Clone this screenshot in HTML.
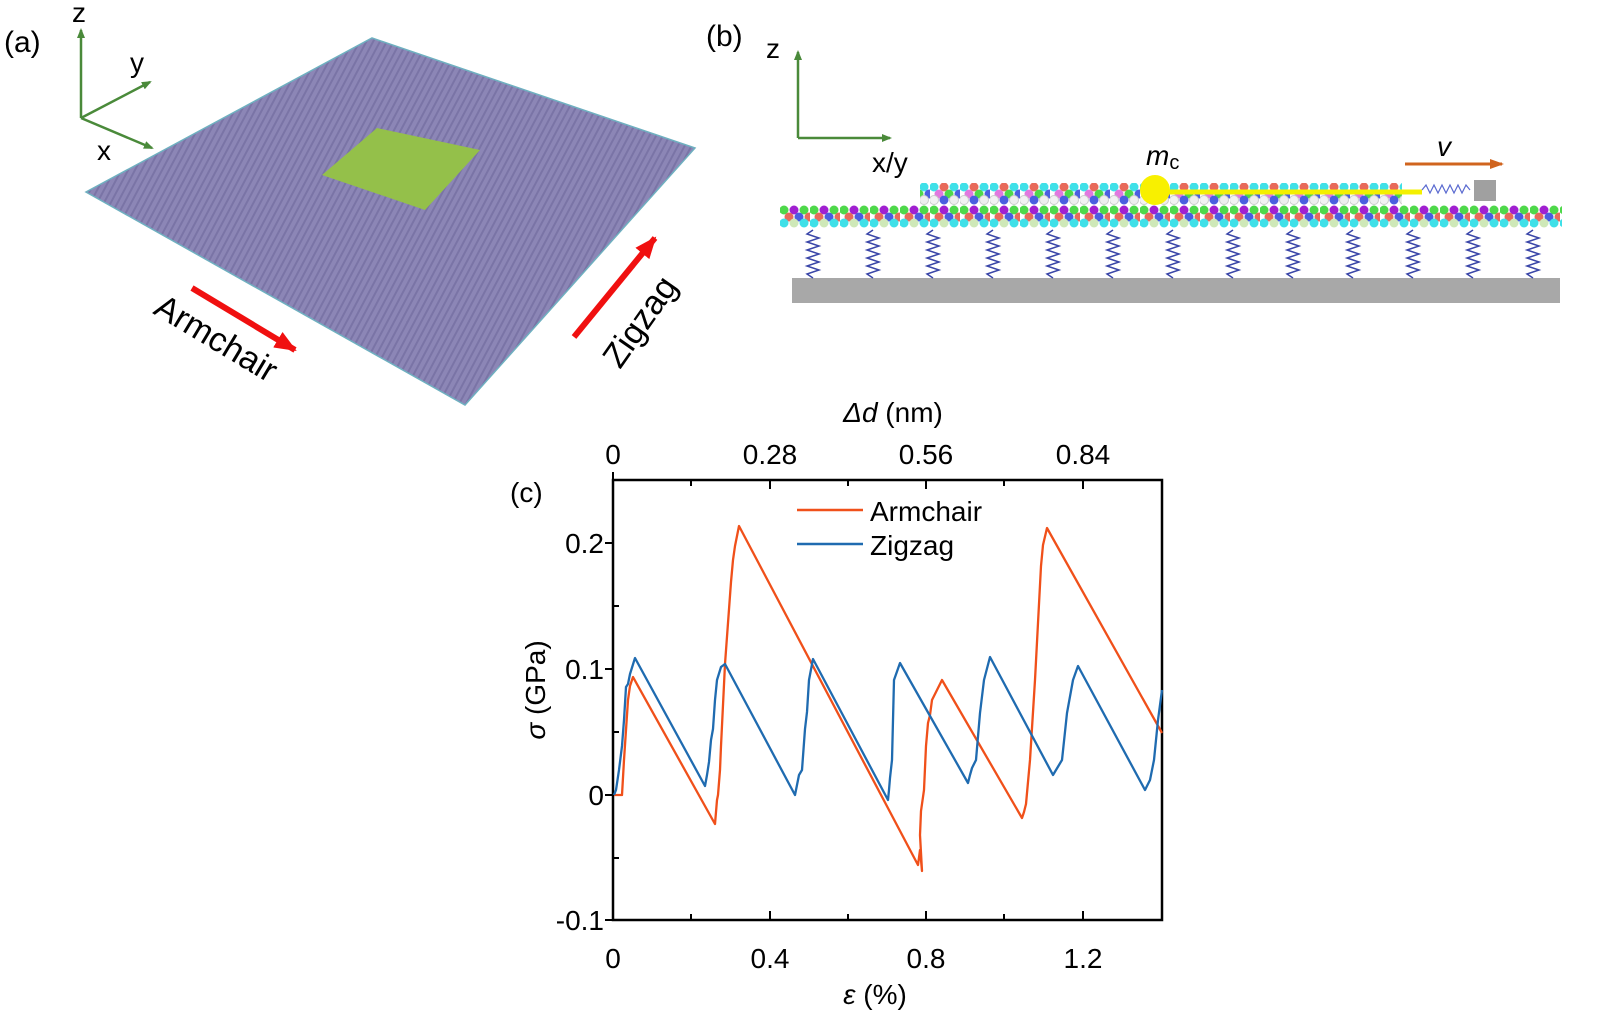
<!DOCTYPE html>
<html><head><meta charset="utf-8"><style>html,body{margin:0;padding:0;background:#fff}svg{display:block}text{font-family:"Liberation Sans",sans-serif}</style></head><body>
<svg width="1600" height="1036" viewBox="0 0 1600 1036" xmlns="http://www.w3.org/2000/svg">
<defs>
<pattern id="grid" width="6" height="6" patternUnits="userSpaceOnUse" patternTransform="rotate(28)">
<rect width="6" height="6" fill="#8c86b6"/><rect width="2" height="6" fill="#7a74a6"/></pattern>
<pattern id="top" x="0" y="183" width="30" height="24" patternUnits="userSpaceOnUse">
<circle cx="4" cy="4" r="4.5" fill="#3fe0e8"/><circle cx="14" cy="4" r="4.5" fill="#e86a5a"/><circle cx="24" cy="4" r="4.5" fill="#3fe0e8"/>
<circle cx="9" cy="11" r="4.5" fill="#e07adf"/><circle cx="19" cy="11" r="4.5" fill="#4ed84a"/><circle cx="29" cy="11" r="4.5" fill="#4a5ee0"/>
<circle cx="4" cy="17" r="4.5" fill="#f2f2f2" stroke="#ccc"/><circle cx="14" cy="17" r="4.5" fill="#4a5ee0"/><circle cx="24" cy="17" r="4.5" fill="#eee" stroke="#ccc"/>
</pattern>
<pattern id="bot" x="0" y="205" width="30" height="26" patternUnits="userSpaceOnUse">
<circle cx="4" cy="5" r="4.5" fill="#4ed84a"/><circle cx="14" cy="5" r="4.5" fill="#a020d0"/><circle cx="24" cy="5" r="4.5" fill="#4ed84a"/>
<circle cx="9" cy="12" r="4.5" fill="#e86a5a"/><circle cx="19" cy="12" r="4.5" fill="#4a5ee0"/><circle cx="29" cy="12" r="4.5" fill="#e86a5a"/>
<circle cx="4" cy="18" r="4.5" fill="#3fe0e8"/><circle cx="14" cy="18" r="4.5" fill="#cfe8b8"/><circle cx="24" cy="18" r="4.5" fill="#3fe0e8"/>
</pattern>
<marker id="ga" markerWidth="10" markerHeight="10" refX="8" refY="5" orient="auto" markerUnits="userSpaceOnUse"><path d="M0,1 L10,5 L0,9 Z" fill="#4a8a3a"/></marker>
<marker id="oa" markerWidth="14" markerHeight="12" refX="12" refY="6" orient="auto" markerUnits="userSpaceOnUse"><path d="M0,1 L14,6 L0,11 Z" fill="#d0641e"/></marker>
<marker id="ra" markerWidth="22" markerHeight="18" refX="20" refY="9" orient="auto" markerUnits="userSpaceOnUse"><path d="M0,0 L22,9 L0,18 Z" fill="#f01010"/></marker>
</defs>

<!-- Panel a -->
<text x="4" y="52" font-size="30">(a)</text>
<g stroke="#4a8a3a" stroke-width="2.5" fill="none">
<line x1="81" y1="118" x2="81" y2="30" marker-end="url(#ga)"/>
<line x1="81" y1="118" x2="150" y2="82" marker-end="url(#ga)"/>
<line x1="81" y1="118" x2="152" y2="148" marker-end="url(#ga)"/>
</g>
<text x="72" y="22" font-size="28">z</text>
<text x="130" y="72" font-size="28">y</text>
<text x="97" y="160" font-size="28">x</text>
<polygon points="372,38 695,148 465,405 86,192" fill="url(#grid)" stroke="#6fb0c0" stroke-width="1.5"/>
<polygon points="322,175 377,128 480,150 425,210" fill="#94c04a"/>
<line x1="192" y1="288" x2="295" y2="350" stroke="#f01010" stroke-width="6" marker-end="url(#ra)"/>
<line x1="574" y1="337" x2="655" y2="238" stroke="#f01010" stroke-width="6" marker-end="url(#ra)"/>
<text transform="translate(152,313) rotate(31)" font-size="34">Armchair</text>
<text transform="translate(620,370) rotate(-55)" font-size="34">Zigzag</text>

<!-- Panel b -->
<text x="706" y="46" font-size="30">(b)</text>
<g stroke="#4a8a3a" stroke-width="2.5" fill="none">
<line x1="798" y1="138" x2="798" y2="52" marker-end="url(#ga)"/>
<line x1="798" y1="138" x2="890" y2="138" marker-end="url(#ga)"/>
</g>
<text x="766" y="58" font-size="28">z</text>
<text x="872" y="172" font-size="28">x/y</text>
<rect x="792" y="278" width="768" height="25" fill="#a8a8a8"/>
<g stroke="#3a46a8" stroke-width="1.5" fill="none" id="springs">
<path d="M813,230 l-6,4 l12,4 l-12,4 l12,4 l-12,4 l12,4 l-12,4 l12,4 l-12,4 l12,4 l-12,4 l6,4" transform="translate(0,0)"/>
<path d="M813,230 l-6,4 l12,4 l-12,4 l12,4 l-12,4 l12,4 l-12,4 l12,4 l-12,4 l12,4 l-12,4 l6,4" transform="translate(60,0)"/>
<path d="M813,230 l-6,4 l12,4 l-12,4 l12,4 l-12,4 l12,4 l-12,4 l12,4 l-12,4 l12,4 l-12,4 l6,4" transform="translate(120,0)"/>
<path d="M813,230 l-6,4 l12,4 l-12,4 l12,4 l-12,4 l12,4 l-12,4 l12,4 l-12,4 l12,4 l-12,4 l6,4" transform="translate(180,0)"/>
<path d="M813,230 l-6,4 l12,4 l-12,4 l12,4 l-12,4 l12,4 l-12,4 l12,4 l-12,4 l12,4 l-12,4 l6,4" transform="translate(240,0)"/>
<path d="M813,230 l-6,4 l12,4 l-12,4 l12,4 l-12,4 l12,4 l-12,4 l12,4 l-12,4 l12,4 l-12,4 l6,4" transform="translate(300,0)"/>
<path d="M813,230 l-6,4 l12,4 l-12,4 l12,4 l-12,4 l12,4 l-12,4 l12,4 l-12,4 l12,4 l-12,4 l6,4" transform="translate(360,0)"/>
<path d="M813,230 l-6,4 l12,4 l-12,4 l12,4 l-12,4 l12,4 l-12,4 l12,4 l-12,4 l12,4 l-12,4 l6,4" transform="translate(420,0)"/>
<path d="M813,230 l-6,4 l12,4 l-12,4 l12,4 l-12,4 l12,4 l-12,4 l12,4 l-12,4 l12,4 l-12,4 l6,4" transform="translate(480,0)"/>
<path d="M813,230 l-6,4 l12,4 l-12,4 l12,4 l-12,4 l12,4 l-12,4 l12,4 l-12,4 l12,4 l-12,4 l6,4" transform="translate(540,0)"/>
<path d="M813,230 l-6,4 l12,4 l-12,4 l12,4 l-12,4 l12,4 l-12,4 l12,4 l-12,4 l12,4 l-12,4 l6,4" transform="translate(600,0)"/>
<path d="M813,230 l-6,4 l12,4 l-12,4 l12,4 l-12,4 l12,4 l-12,4 l12,4 l-12,4 l12,4 l-12,4 l6,4" transform="translate(660,0)"/>
<path d="M813,230 l-6,4 l12,4 l-12,4 l12,4 l-12,4 l12,4 l-12,4 l12,4 l-12,4 l12,4 l-12,4 l6,4" transform="translate(720,0)"/>
</g>
<rect x="780" y="205" width="782" height="25" fill="url(#bot)"/>
<rect x="920" y="183" width="482" height="22" fill="url(#top)"/>
<line x1="1155" y1="192" x2="1422" y2="192" stroke="#f4f000" stroke-width="5"/>
<circle cx="1155" cy="190" r="15" fill="#f8f000"/>
<path d="M1422,190 l4,-5 l4,8 l4,-8 l4,8 l4,-8 l4,8 l4,-8 l4,8 l4,-8 l4,8 l4,-8 l4,5" stroke="#5a6ad0" stroke-width="1.2" fill="none"/>
<rect x="1474" y="180" width="22" height="21" fill="#a0a0a0"/>
<line x1="1405" y1="164" x2="1502" y2="164" stroke="#d0641e" stroke-width="3" marker-end="url(#oa)"/>
<text x="1437" y="156" font-size="28" font-style="italic">v</text>
<text x="1146" y="165" font-size="28"><tspan font-style="italic">m</tspan><tspan font-size="20" dy="4">c</tspan></text>

<!-- Panel c -->
<text x="510" y="502" font-size="28">(c)</text>
<rect x="613" y="480" width="549" height="440" fill="none" stroke="#000" stroke-width="2.5"/>
<g stroke="#000" stroke-width="2">
<line x1="613" y1="920" x2="613" y2="911"/><line x1="691" y1="920" x2="691" y2="914"/><line x1="770" y1="920" x2="770" y2="911"/><line x1="848" y1="920" x2="848" y2="914"/><line x1="926" y1="920" x2="926" y2="911"/><line x1="1004" y1="920" x2="1004" y2="914"/><line x1="1083" y1="920" x2="1083" y2="911"/>
<line x1="613" y1="480" x2="613" y2="472"/><line x1="691" y1="480" x2="691" y2="486"/><line x1="770" y1="480" x2="770" y2="489"/><line x1="848" y1="480" x2="848" y2="486"/><line x1="926" y1="480" x2="926" y2="489"/><line x1="1004" y1="480" x2="1004" y2="486"/><line x1="1083" y1="480" x2="1083" y2="489"/>
<line x1="605" y1="543" x2="613" y2="543"/><line x1="605" y1="669" x2="613" y2="669"/><line x1="605" y1="795" x2="613" y2="795"/><line x1="605" y1="920" x2="613" y2="920"/>
<line x1="613" y1="606" x2="619" y2="606"/><line x1="613" y1="732" x2="619" y2="732"/><line x1="613" y1="858" x2="619" y2="858"/>
</g>
<g font-size="28" text-anchor="end">
<text x="604" y="553">0.2</text><text x="604" y="679">0.1</text><text x="604" y="805">0</text><text x="604" y="930">-0.1</text>
</g>
<g font-size="28" text-anchor="middle">
<text x="613" y="968">0</text><text x="770" y="968">0.4</text><text x="926" y="968">0.8</text><text x="1083" y="968">1.2</text>
<text x="613" y="464">0</text><text x="770" y="464">0.28</text><text x="926" y="464">0.56</text><text x="1083" y="464">0.84</text>
<text x="875" y="1004"><tspan font-style="italic">ε</tspan> (%)</text>
<text x="893" y="422"><tspan font-style="italic">Δd</tspan> (nm)</text>
<text transform="translate(545,690) rotate(-90)"><tspan font-style="italic">σ</tspan> (GPa)</text>
</g>
<line x1="797" y1="510" x2="863" y2="510" stroke="#f0501a" stroke-width="2.5"/>
<line x1="797" y1="544" x2="863" y2="544" stroke="#1f6bb0" stroke-width="2.5"/>
<text x="870" y="521" font-size="28">Armchair</text>
<text x="870" y="555" font-size="28">Zigzag</text>
<polyline fill="none" stroke="#f0501a" stroke-width="2.3" stroke-linejoin="round" points="614,795 616,795 622,795 624,760 628,700 630,686 633,677 715,824 717,800 718,795 720,770 721,746 725,664 731,582 733,560 735,546 739,526 918,865 920,850 921,860 922,871 920,835 921,811 922,804 924,790 926,746 928,723 930,715 932,700 942,680 1022,818 1024,812 1026,804 1030,760 1035,680 1041,566 1043,545 1047,528 1162,733"/>
<polyline fill="none" stroke="#1f6bb0" stroke-width="2.3" stroke-linejoin="round" points="614,795 616,790 619,770 622,746 624,720 626,687 628,684 630,674 635,658 705,786 707,775 709,762 711,740 713,729 715,700 717,680 721,667 725,664 795,795 797,785 799,775 802,770 805,729 807,712 809,680 813,659 888,800 889,790 890,778 892,760 894,680 900,663 968,783 970,775 972,768 976,760 980,713 984,680 990,657 1053,775 1056,770 1059,765 1062,760 1067,713 1073,680 1078,666 1145,790 1150,780 1154,760 1158,720 1162,690"/>
</svg>
</body></html>
